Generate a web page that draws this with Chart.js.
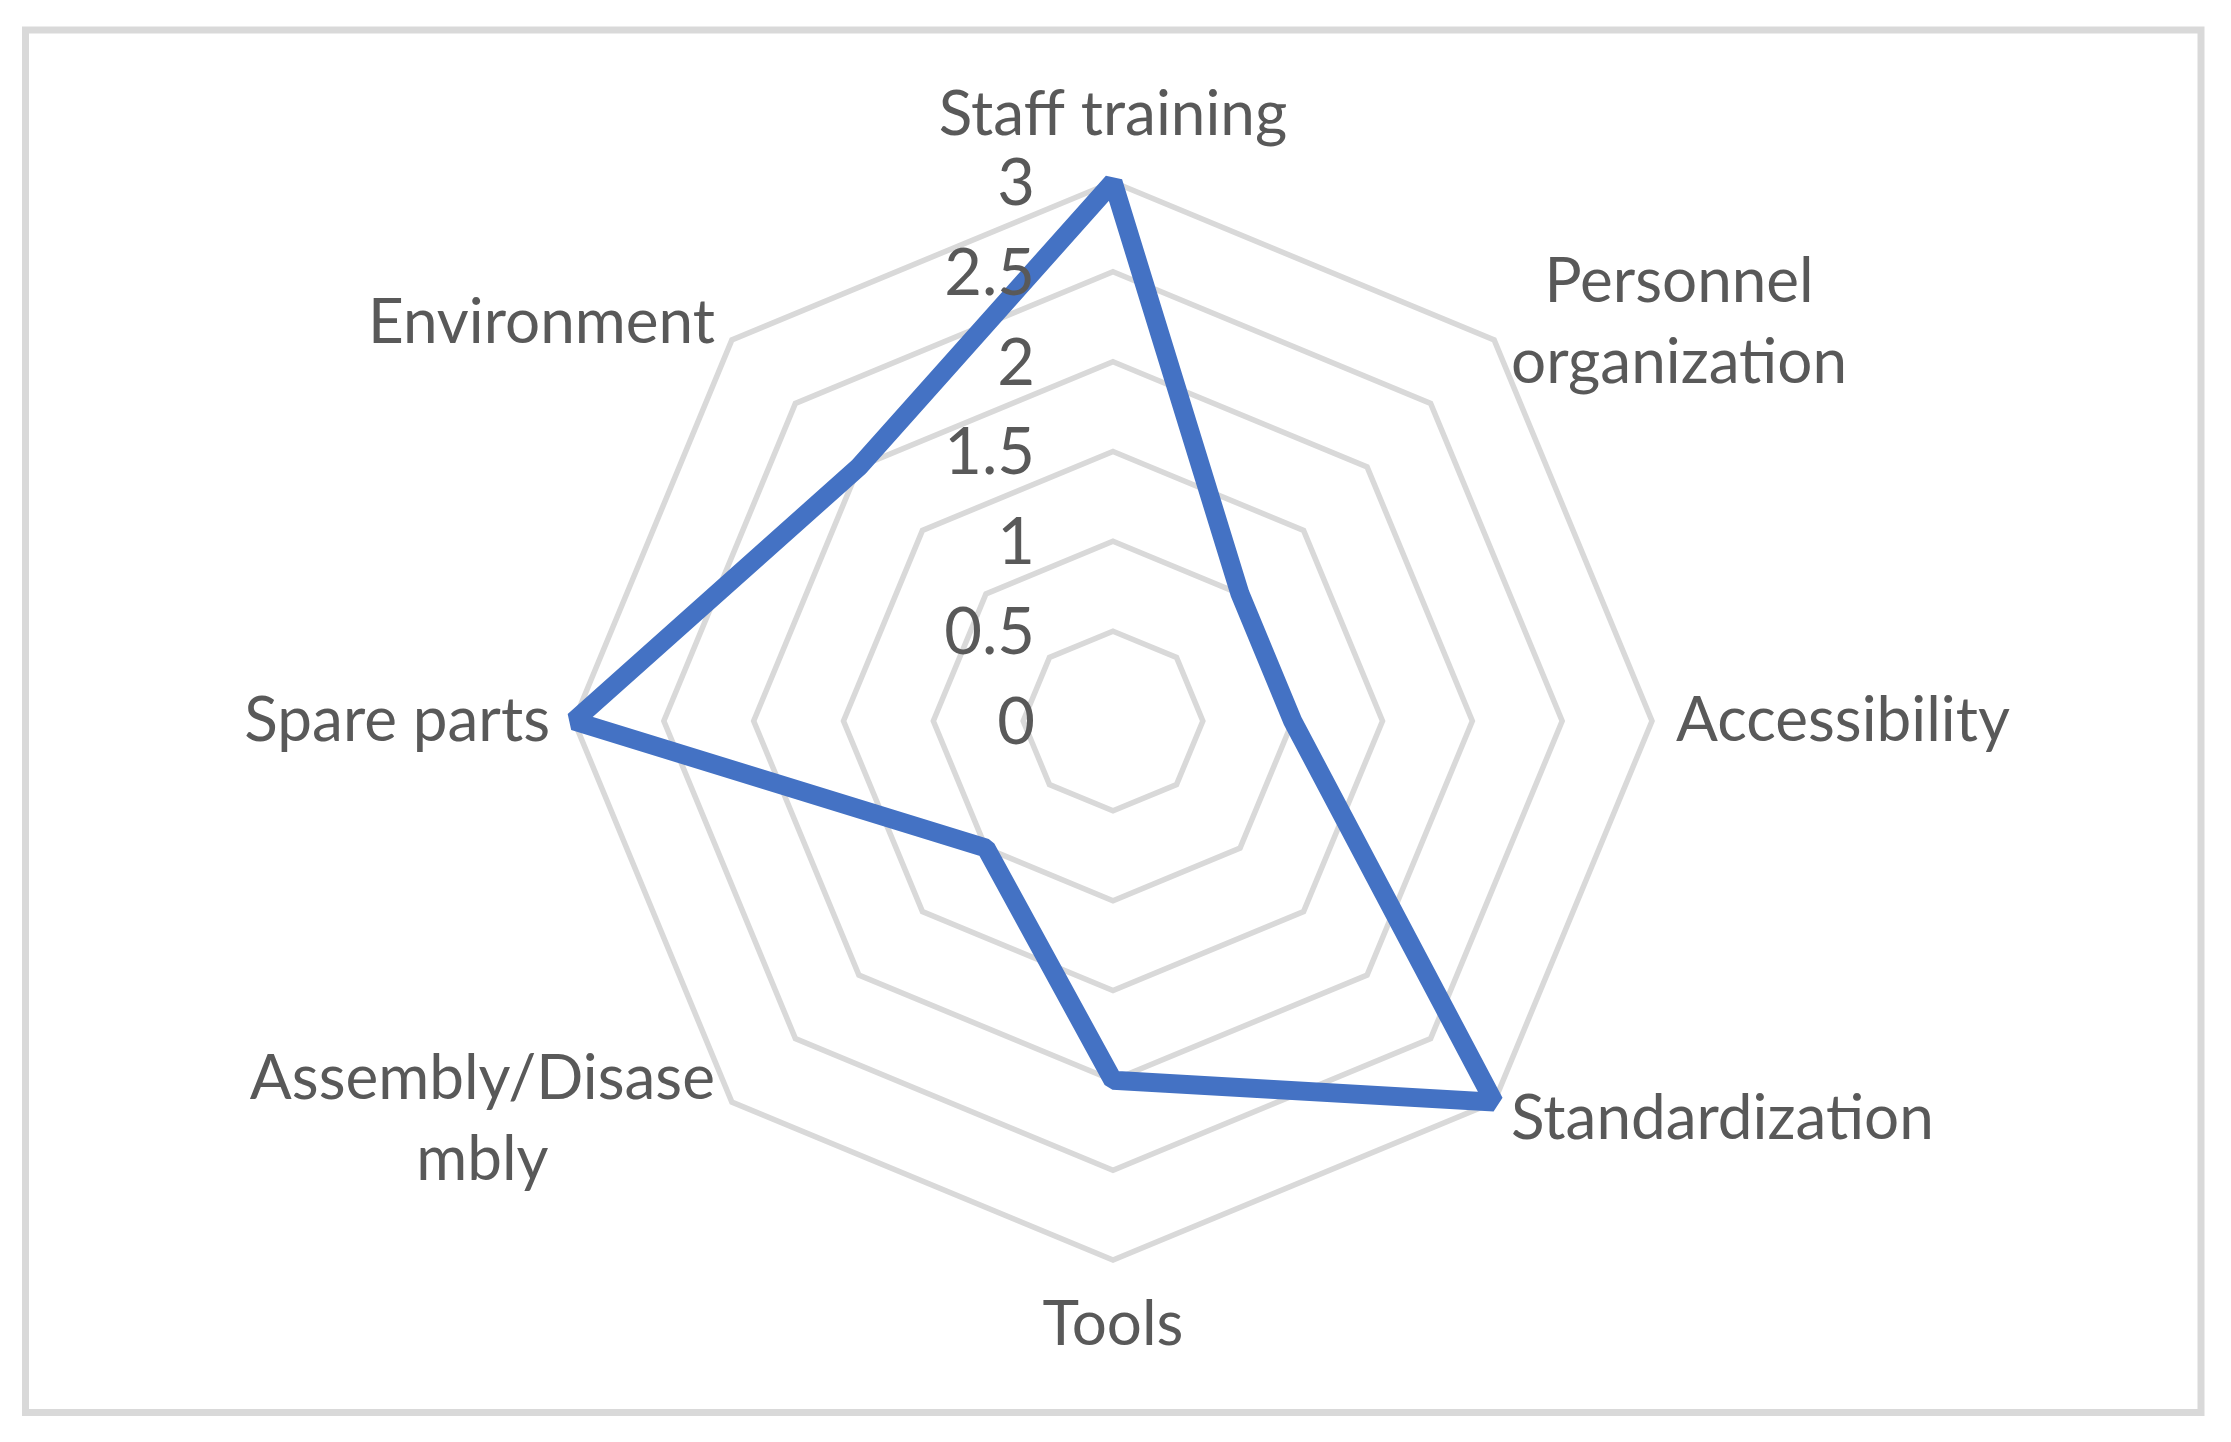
<!DOCTYPE html>
<html>
<head>
<meta charset="utf-8">
<script src="https://cdn.jsdelivr.net/npm/chart.js"></script>
<style>
html, body { margin: 0; padding: 0; background: #ffffff; overflow: hidden; }
canvas { display: block; }
</style>
</head>
<body>
<canvas id="c" width="2231" height="1442"></canvas>
<script>
// ---- data ----
const categories = ['Staff training', ['Personnel', 'organization'], 'Accessibility', 'Standardization', 'Tools', ['Assembly/Disase', 'mbly'], 'Spare parts', 'Environment'];
const seriesValues = [3, 1, 1, 3, 2, 1, 3, 2];
const tickValues = [0, 0.5, 1, 1.5, 2, 2.5, 3];
const tickLabels = ['0', '0.5', '1', '1.5', '2', '2.5', '3'];

// ---- layout / style ----
const FRAME = { l: 25.5, t: 30, r: 2201, b: 1412.5, w: 7, color: '#d9d9d9' };
const CX = Math.round((FRAME.l + FRAME.r) / 2);
const CY = Math.round((FRAME.t + FRAME.b) / 2);
const RADIUS = 539;
const LABEL_GAP = 24;
const TICK_OFFSET = 78;
const TEXT_COLOR = '#595959';
const FONT_FAMILY = 'Lato, Carlito, "Open Sans", sans-serif';
const LABEL_SIZE = 62;
const TICK_SIZE = 65;

// fix the radial scale's centre and radius (Excel-like plot area)
const RS = Chart.RadialLinearScale || Chart.registry.getScale('radialLinear');
const baseSetCenterPoint = RS.prototype.setCenterPoint;
RS.prototype.setCenterPoint = function (...args) {
  baseSetCenterPoint.apply(this, args);
  this.xCenter = CX;
  this.yCenter = CY;
  this.drawingArea = RADIUS;
};

const excelLayout = {
  id: 'excelLayout',
  beforeDraw(chart) {
    const ctx = chart.ctx;
    ctx.save();
    ctx.fillStyle = '#ffffff';
    ctx.fillRect(0, 0, chart.width, chart.height);
    ctx.strokeStyle = FRAME.color;
    ctx.lineWidth = FRAME.w;
    ctx.strokeRect(FRAME.l, FRAME.t, FRAME.r - FRAME.l, FRAME.b - FRAME.t);
    ctx.restore();

    // Excel-style placement of category labels (box anchored next to each vertex, lines centred)
    const s = chart.scales.r;
    const items = s._pointLabelItems || [];
    items.forEach((it, i) => {
      const w = it.right - it.left, h = it.bottom - it.top;
      const p = s.getPointPosition(i, s.drawingArea + LABEL_GAP);
      const dx = p.x - s.xCenter, dy = p.y - s.yCenter;
      let left, top;
      if (Math.abs(dx) < 1) {
        left = p.x - w / 2;
        top = dy < 0 ? p.y - h - 3 : p.y;
      } else {
        left = dx > 0 ? p.x : p.x - w;
        top = p.y - h / 2;
      }
      Object.assign(it, { x: left + w / 2, y: top, textAlign: 'center', left: left, top: top, right: left + w, bottom: top + h });
    });
  },
  afterDatasetsDraw(chart) {
    const s = chart.scales.r;
    const ctx = chart.ctx;
    ctx.save();
    ctx.font = TICK_SIZE + 'px ' + FONT_FAMILY;
    ctx.fillStyle = TEXT_COLOR;
    ctx.textAlign = 'right';
    ctx.textBaseline = 'middle';
    tickValues.forEach((v, i) => {
      const d = s.getDistanceFromCenterForValue(v);
      ctx.fillText(tickLabels[i], s.xCenter - TICK_OFFSET, s.yCenter - d + 2);
    });
    ctx.restore();
  }
};

new Chart(document.getElementById('c'), {
  type: 'radar',
  data: {
    labels: categories,
    datasets: [{
      label: 'Series1',
      data: seriesValues,
      borderColor: '#4472C4',
      backgroundColor: 'rgba(0,0,0,0)',
      borderWidth: 19,
      borderJoinStyle: 'bevel',
      fill: false,
      pointRadius: 0,
      pointHoverRadius: 0,
      pointHitRadius: 0
    }]
  },
  options: {
    responsive: false,
    animation: false,
    events: [],
    layout: { padding: 0 },
    plugins: {
      legend: { display: false },
      tooltip: { enabled: false }
    },
    scales: {
      r: {
        min: tickValues[0],
        max: tickValues[tickValues.length - 1],
        afterBuildTicks: (scale) => { scale.ticks = tickValues.map(v => ({ value: v })); },
        ticks: { display: false },
        grid: { color: '#d9d9d9', lineWidth: 5.5 },
        angleLines: { display: false },
        pointLabels: {
          display: true,
          color: TEXT_COLOR,
          padding: 0,
          font: { family: FONT_FAMILY, size: LABEL_SIZE, lineHeight: 81 / LABEL_SIZE }
        }
      }
    }
  },
  plugins: [excelLayout]
});
</script>
</body>
</html>
